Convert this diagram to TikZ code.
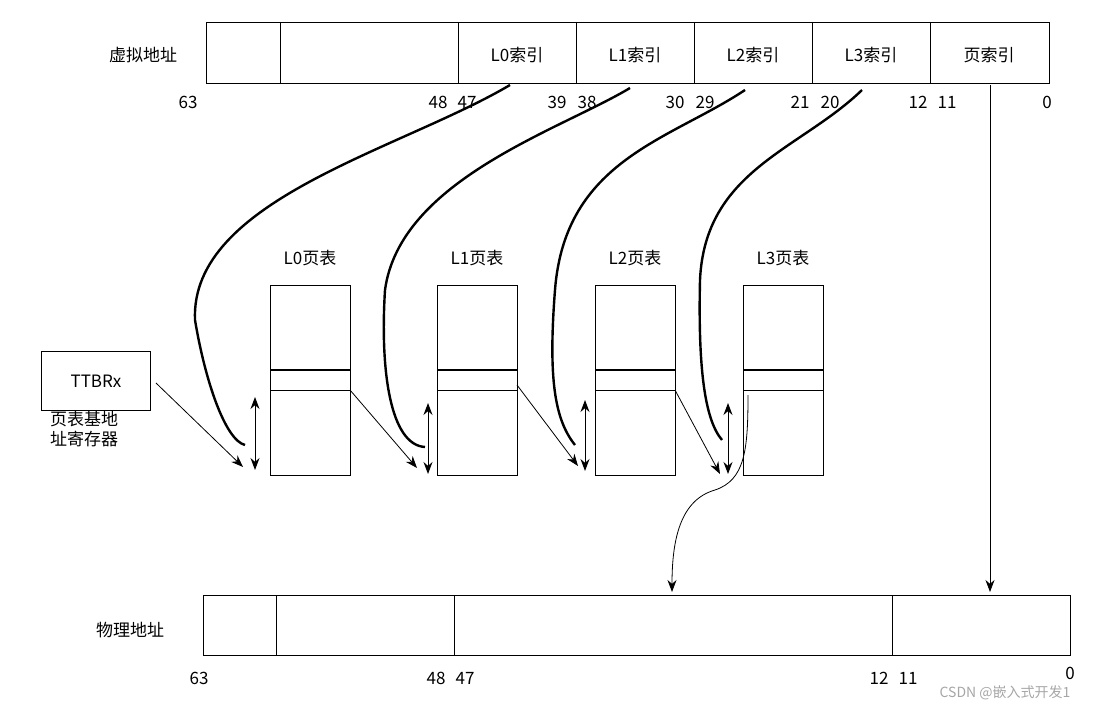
\documentclass[tikz,border=0pt]{standalone}
\usepackage{fontspec}
\setmainfont{Noto Sans CJK SC}
\usetikzlibrary{arrows.meta}
\begin{document}
\begin{tikzpicture}[x=1pt,y=-1pt,
  lbl/.style={font=\fontsize{17}{20}\selectfont,inner sep=0pt},
  num/.style={font=\fontsize{17}{20}\selectfont,inner sep=0pt,anchor=base},
  box/.style={draw,line width=0.8pt},
  thick curve/.style={line width=2.4pt},
  arr/.style={-{Stealth[length=12pt,width=9pt]},line width=0.8pt},
  darr/.style={{Stealth[length=12pt,width=9pt]}-{Stealth[length=12pt,width=9pt]},line width=1pt}]
\useasboundingbox (0,0) rectangle (1114,714);
% virtual address
\node[box,minimum width=843,minimum height=61,anchor=north west,inner sep=0] (va) at (206,22) {};
\foreach \x in {280,458,576,694,812,930} \draw[line width=0.8pt] (\x,22) -- (\x,83);
\node[lbl] (vai0) at (517,55) {L0索引};
\node[lbl] (vai1) at (635,55) {L1索引};
\node[lbl] (vai2) at (753,55) {L2索引};
\node[lbl] (vai3) at (871,55) {L3索引};
\node[lbl] (vaip) at (989,55) {页索引};
\node[lbl] (valbl) at (143,55) {虚拟地址};
\foreach \x/\t in {188/63,438/48,467/47,557/39,587/38,675/30,705/29,800/21,830/20,918/12,947/11,1047/0}
  \node[num] at (\x,109) {\t};
% page tables
\foreach \n/\x/\t in {t0/270/L0页表,t1/437/L1页表,t2/595/L2页表,t3/743/L3页表}{
  \node[box,minimum width=80,minimum height=190,anchor=north west,inner sep=0] (\n) at (\x,285) {};
  \draw[line width=2.4pt] (\x,370) -- ++(80,0);
  \draw[line width=0.8pt] (\x,390) -- ++(80,0);
  \node[lbl] at (\x+40,258) {\t};
}
\node[box,minimum width=109,minimum height=59,anchor=north west,inner sep=0] (ttbr) at (41,351) {};
\node[lbl] at (ttbr.center) {TTBRx};
\node[lbl,align=left,anchor=north west] (ttbrl) at (50,411) {页表基地\\址寄存器};
% arrows
\coordinate (s0) at (156,383); \coordinate (e0) at (243,467);
\draw[arr] (s0) -- (e0);
\coordinate (s1) at (350,390); \coordinate (e1) at (417,468);
\draw[arr] (s1) -- (e1);
\coordinate (s2) at (517,385); \coordinate (e2) at (578,466);
\draw[arr] (s2) -- (e2);
\coordinate (s3) at (675,390); \coordinate (e3) at (720,474);
\draw[arr] (s3) -- (e3);
\foreach \x/\a/\b in {255/397/470,428/403/474,585/400/471,728/403/474}
  \draw[darr] (\x,\a) -- (\x,\b);
% thick curves
\draw[thick curve] (510,85) .. controls (400,150) and (190,200) .. (195,320) .. controls (205,380) and (225,440) .. (245,445);
\draw[thick curve] (630,88) .. controls (560,130) and (400,180) .. (385,290) .. controls (380,370) and (390,445) .. (425,447);
\draw[thick curve] (745,90) .. controls (670,140) and (565,160) .. (555,290) .. controls (548,380) and (555,420) .. (575,445);
\draw[thick curve] (862,90) .. controls (800,150) and (705,170) .. (700,280) .. controls (698,370) and (705,420) .. (722,440);
% L3 to physical
\draw[arr] (748,395) .. controls (748,450) and (745,480) .. (715,490) .. controls (680,500) and (672,540) .. (672,592);
\draw[arr] (990,85) -- (990,592);
% physical address
\node[box,minimum width=867,minimum height=60,anchor=north west,inner sep=0] (pa) at (203,595) {};
\foreach \x in {276,454,892} \draw[line width=0.8pt] (\x,595) -- (\x,655);
\node[lbl] (palbl) at (130,630) {物理地址};
\foreach \x/\t in {199/63,436/48,465/47,879/12,908/11}
  \node[num] at (\x,684) {\t};
\node[num] at (1070,679) {0};
\node[font=\fontsize{14}{16}\selectfont,text=gray!70,inner sep=0] at (1005,693) {CSDN @嵌入式开发1};
\end{tikzpicture}
\end{document}
